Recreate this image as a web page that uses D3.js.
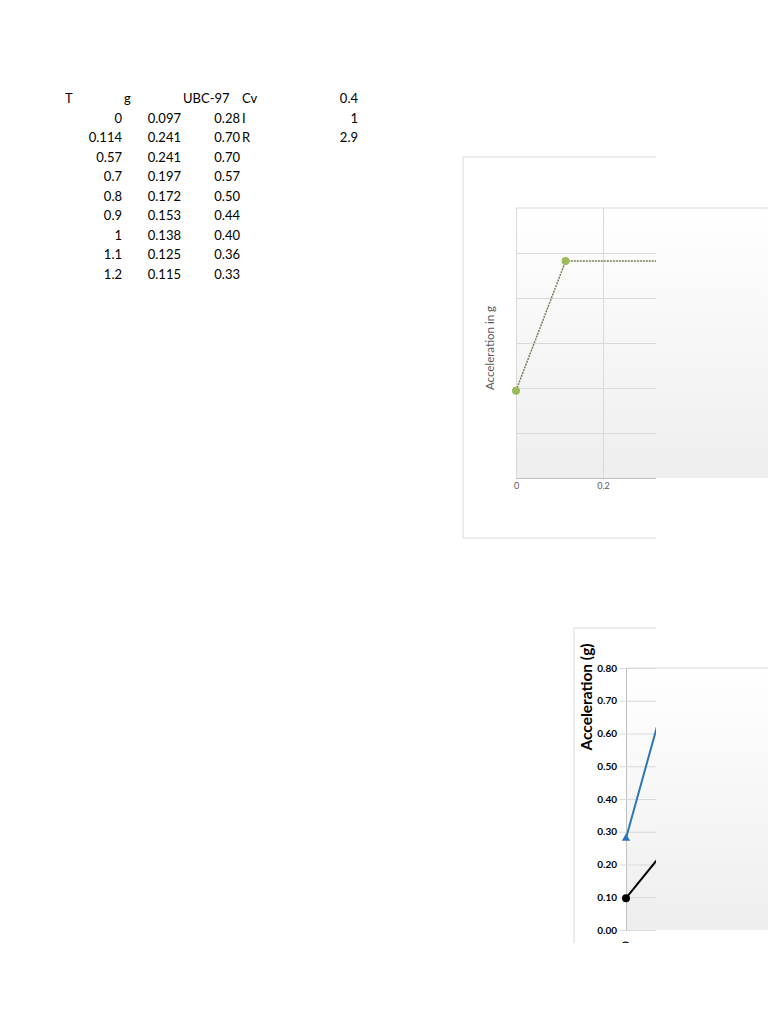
<!doctype html>
<html>
  <head>
    <meta charset="UTF-8">
    <title>UBC-97 spectrum</title>
    <script src="https://d3js.org/d3.v7.min.js"></script>
    <style>
      body { margin: 0; background: #fff; }
      svg { display: block; }
      .cell { font-family: Lato, "Open Sans", sans-serif; font-size: 13px; fill: #000; }
    </style>
  </head>
  <body>
    <svg id="page" width="768" height="1024"></svg>
    <script>
      // sheet values
      const headers = ["T", "g", "UBC-97"];
      const periods = [0, 0.114, 0.57, 0.7, 0.8, 0.9, 1, 1.1, 1.2];
      const gValues = [0.097, 0.241, 0.241, 0.197, 0.172, 0.153, 0.138, 0.125, 0.115];
      const ubcValues = [0.28, 0.70, 0.70, 0.57, 0.50, 0.44, 0.40, 0.36, 0.33];
      const paramNames = ["Cv", "I", "R"];
      const paramValues = [0.4, 1, 2.9];
      const xTicks1 = [0, 0.2];       // only these show before the chart is cut off
      const yTicks2 = [0, 0.1, 0.2, 0.3, 0.4, 0.5, 0.6, 0.7, 0.8];

      const svg = d3.select("#page");

      // ---- table ----
      const rowY = i => 103 + i * 19.5;
      const tbl = svg.append("g");
      tbl.append("text").attr("class", "cell").attr("x", 65).attr("y", rowY(0)).text(headers[0]);
      tbl.append("text").attr("class", "cell").attr("x", 124).attr("y", rowY(0)).text(headers[1]);
      tbl.append("text").attr("class", "cell").attr("x", 183).attr("y", rowY(0)).text(headers[2]);
      periods.forEach((t, i) => {
        tbl.append("text").attr("class", "cell").attr("text-anchor", "end")
          .attr("x", 122).attr("y", rowY(i + 1)).text(t);
        tbl.append("text").attr("class", "cell").attr("text-anchor", "end")
          .attr("x", 181).attr("y", rowY(i + 1)).text(d3.format(".3f")(gValues[i]));
        tbl.append("text").attr("class", "cell").attr("text-anchor", "end")
          .attr("x", 240).attr("y", rowY(i + 1)).text(d3.format(".2f")(ubcValues[i]));
      });
      paramNames.forEach((p, i) => {
        tbl.append("text").attr("class", "cell").attr("x", 242).attr("y", rowY(i)).text(p);
        tbl.append("text").attr("class", "cell").attr("text-anchor", "end")
          .attr("x", 358).attr("y", rowY(i)).text(paramValues[i]);
      });

      const defs = svg.append("defs");
      const grad = defs.append("linearGradient").attr("id", "plotbg")
        .attr("x1", 0).attr("y1", 0).attr("x2", 0).attr("y2", 1);
      grad.append("stop").attr("offset", "0%").attr("stop-color", "#ffffff");
      grad.append("stop").attr("offset", "100%").attr("stop-color", "#eeeeee");
      defs.append("clipPath").attr("id", "clip1").append("rect")
        .attr("x", 440).attr("y", 140).attr("width", 216).attr("height", 420);
      defs.append("clipPath").attr("id", "clip2").append("rect")
        .attr("x", 560).attr("y", 610).attr("width", 96).attr("height", 333);

      const line = (x, y, vals) => d3.line().x((d, i) => x(periods[i])).y(d => y(d))(vals);

      // ---- chart 1 : g vs T ----
      const x1 = d3.scaleLinear().domain([0, 1.4]).range([516, 516 + 435 * 1.4]);
      const y1 = d3.scaleLinear().domain([0, 0.3]).range([478, 208]);

      svg.append("rect").attr("x", 516).attr("y", 208).attr("width", 252).attr("height", 270)
        .attr("fill", "url(#plotbg)");
      svg.append("line").attr("x1", 516).attr("x2", 768).attr("y1", 208).attr("y2", 208)
        .attr("stroke", "#d9d9d9");

      const c1 = svg.append("g").attr("clip-path", "url(#clip1)");
      c1.append("path").attr("fill", "none").attr("stroke", "#d9d9d9")
        .attr("d", "M463,157H680M463,157V538M463,538H680");
      c1.append("g").attr("transform", "translate(516,0)")
        .call(d3.axisLeft(y1).tickValues(d3.range(0.05, 0.3, 0.05)).tickSize(-700).tickFormat(""))
        .call(g => g.select(".domain").remove())
        .call(g => g.selectAll("line").attr("stroke", "#d9d9d9"));
      c1.append("g").attr("transform", "translate(0,478)")
        .call(d3.axisBottom(x1).tickValues(xTicks1).tickSize(-270).tickPadding(5).tickFormat(d => d))
        .call(g => g.select(".domain").attr("stroke", "#bfbfbf"))
        .call(g => g.selectAll("line").attr("stroke", "#d9d9d9"))
        .call(g => g.selectAll("text").attr("fill", "#595959")
          .attr("font-family", "Lato, sans-serif").attr("font-size", 9));
      c1.append("path").attr("fill", "none").attr("stroke", "#7a7a58").attr("stroke-width", 1.5)
        .attr("stroke-dasharray", "2,1").attr("d", line(x1, y1, gValues));
      c1.selectAll("circle.m1").data(gValues).join("circle").attr("class", "m1")
        .attr("cx", (d, i) => x1(periods[i])).attr("cy", d => y1(d)).attr("r", 4)
        .attr("fill", "#9bbb59");
      svg.append("text").attr("transform", "translate(494,348) rotate(-90)")
        .attr("text-anchor", "middle").attr("fill", "#595959")
        .attr("font-family", "Lato, sans-serif").attr("font-size", 11.5)
        .text("Acceleration in g");

      // ---- chart 2 : UBC-97 and g vs T ----
      const x2 = d3.scaleLinear().domain([0, 1.4]).range([626, 626 + 335 * 1.4]);
      const y2 = d3.scaleLinear().domain([0, 0.8]).range([930, 668]);

      svg.append("rect").attr("x", 626).attr("y", 668).attr("width", 142).attr("height", 262)
        .attr("fill", "url(#plotbg)");
      svg.append("line").attr("x1", 626).attr("x2", 768).attr("y1", 668).attr("y2", 668)
        .attr("stroke", "#d9d9d9");

      const c2 = svg.append("g").attr("clip-path", "url(#clip2)");
      c2.append("path").attr("fill", "none").attr("stroke", "#d9d9d9")
        .attr("d", "M574,628H680M574,628V960");
      c2.append("g").attr("transform", "translate(626,0)")
        .call(d3.axisLeft(y2).tickValues(yTicks2).tickSizeInner(-40).tickSizeOuter(0)
          .tickFormat(d3.format(".2f")))
        .call(g => g.select(".domain").attr("stroke", "#bfbfbf"))
        .call(g => g.selectAll(".tick line").attr("stroke", "#d9d9d9").attr("x1", -6))
        .call(g => g.selectAll("text").attr("x", -9).attr("fill", "#000")
          .attr("font-family", "Lato, sans-serif").attr("font-weight", "bold").attr("font-size", 10));
      c2.append("text").attr("transform", `translate(${x2(0) + 3},947) rotate(-90)`)
        .attr("text-anchor", "start").attr("font-family", "Lato, sans-serif")
        .attr("font-weight", "bold").attr("font-size", 10).text("0");
      c2.append("path").attr("fill", "none").attr("stroke", "#2e75b6").attr("stroke-width", 2)
        .attr("d", line(x2, y2, ubcValues));
      c2.append("path").attr("fill", "none").attr("stroke", "#000").attr("stroke-width", 2)
        .attr("d", line(x2, y2, gValues));
      c2.selectAll("path.tri").data(ubcValues).join("path").attr("class", "tri")
        .attr("d", d3.symbol(d3.symbolTriangle, 30))
        .attr("transform", (d, i) => `translate(${x2(periods[i])},${y2(d)})`)
        .attr("fill", "#2e75b6");
      c2.selectAll("circle.m2").data(gValues).join("circle").attr("class", "m2")
        .attr("cx", (d, i) => x2(periods[i])).attr("cy", d => y2(d)).attr("r", 4)
        .attr("fill", "#000");
      svg.append("text").attr("transform", "translate(592,697) rotate(-90)")
        .attr("text-anchor", "middle").attr("fill", "#000")
        .attr("font-family", "Lato, sans-serif").attr("font-weight", "bold").attr("font-size", 15.5)
        .text("Acceleration (g)");
    </script>
  </body>
</html>
